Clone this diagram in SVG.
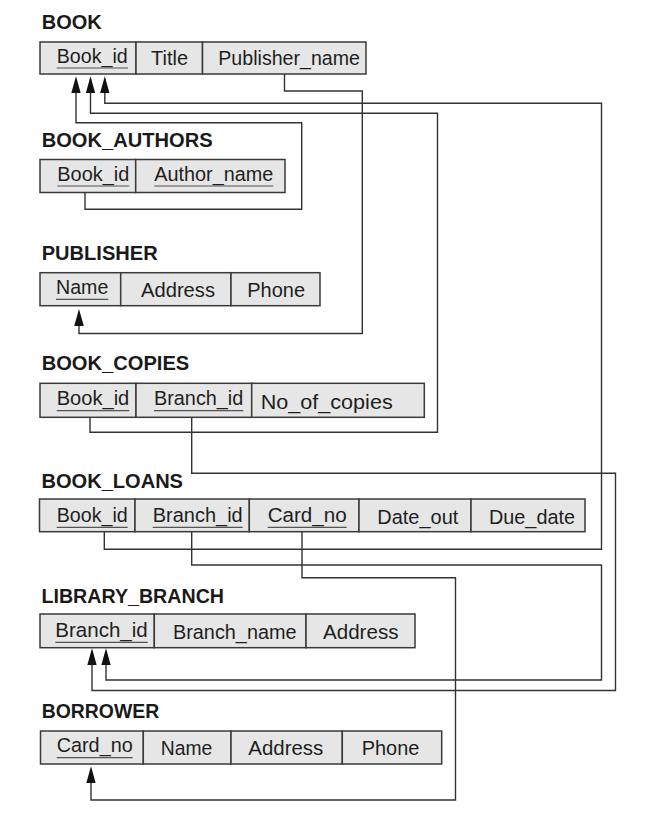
<svg xmlns="http://www.w3.org/2000/svg" width="664" height="826" viewBox="0 0 664 826">
<style>
.t{font-family:"Liberation Sans",Arial,Helvetica,sans-serif;font-size:20px;font-weight:bold;fill:#1a1a1a}
.c{fill:#e6e6e6;stroke:#3a3a3a;stroke-width:1.5}
.a{font-family:"Liberation Sans",Arial,Helvetica,sans-serif;font-size:20.5px;fill:#1e1e1e}
.u{stroke:#555;stroke-width:1.2}
.l{fill:none;stroke:#333;stroke-width:1.4}
</style>
<defs>
<marker id="ah" markerUnits="userSpaceOnUse" markerWidth="17" markerHeight="10" refX="14" refY="4.75" orient="auto">
<path d="M0,0 L17,4.75 L0,9.5 z" fill="#111"/>
</marker>
</defs>
<rect width="664" height="826" fill="#fff"/>

<g id="BOOK">
<text class="t" x="41.7" y="29" textLength="60" lengthAdjust="spacingAndGlyphs">BOOK</text>
<rect class="c" x="40" y="42" width="96" height="32"/>
<rect class="c" x="136" y="42" width="66.5" height="32"/>
<rect class="c" x="202.5" y="42" width="163.5" height="32"/>
<text class="a" x="56.7" y="63" textLength="71" lengthAdjust="spacingAndGlyphs">Book_id</text>
<line class="u" x1="56.7" y1="68" x2="128" y2="68"/>
<text class="a" x="151" y="64.5" textLength="37" lengthAdjust="spacingAndGlyphs">Title</text>
<text class="a" x="218.3" y="64.5" textLength="141.7" lengthAdjust="spacingAndGlyphs">Publisher_name</text>
</g>

<g id="BOOK_AUTHORS">
<text class="t" x="41.7" y="147" textLength="171" lengthAdjust="spacingAndGlyphs">BOOK_AUTHORS</text>
<rect class="c" x="40" y="159.5" width="95.7" height="33"/>
<rect class="c" x="135.7" y="159.5" width="149.3" height="33"/>
<text class="a" x="57.3" y="180.5" textLength="72" lengthAdjust="spacingAndGlyphs">Book_id</text>
<line class="u" x1="57.3" y1="186" x2="129.3" y2="186"/>
<text class="a" x="154.3" y="180.5" textLength="119" lengthAdjust="spacingAndGlyphs">Author_name</text>
<line class="u" x1="154.3" y1="186" x2="273.3" y2="186"/>
</g>

<g id="PUBLISHER">
<text class="t" x="41.7" y="260" textLength="116" lengthAdjust="spacingAndGlyphs">PUBLISHER</text>
<rect class="c" x="40" y="272.7" width="80.7" height="33"/>
<rect class="c" x="120.7" y="272.7" width="110.3" height="33"/>
<rect class="c" x="231" y="272.7" width="89" height="33"/>
<text class="a" x="56" y="294" textLength="52.3" lengthAdjust="spacingAndGlyphs">Name</text>
<line class="u" x1="56" y1="299.3" x2="108.3" y2="299.3"/>
<text class="a" x="141" y="296.5" textLength="74" lengthAdjust="spacingAndGlyphs">Address</text>
<text class="a" x="247.3" y="296.5" textLength="57.7" lengthAdjust="spacingAndGlyphs">Phone</text>
</g>

<g id="BOOK_COPIES">
<text class="t" x="41.7" y="369.5" textLength="147.6" lengthAdjust="spacingAndGlyphs">BOOK_COPIES</text>
<rect class="c" x="40" y="383.3" width="96" height="34"/>
<rect class="c" x="136" y="383.3" width="115.7" height="34"/>
<rect class="c" x="251.7" y="383.3" width="172.6" height="34"/>
<text class="a" x="56.7" y="405.3" textLength="72.6" lengthAdjust="spacingAndGlyphs">Book_id</text>
<line class="u" x1="56.7" y1="410.7" x2="129.3" y2="410.7"/>
<text class="a" x="154" y="405.3" textLength="89.3" lengthAdjust="spacingAndGlyphs">Branch_id</text>
<line class="u" x1="154" y1="410.7" x2="243.3" y2="410.7"/>
<text class="a" x="260.7" y="409" textLength="132" lengthAdjust="spacingAndGlyphs">No_of_copies</text>
</g>

<g id="BOOK_LOANS">
<text class="t" x="41.5" y="488" textLength="141.5" lengthAdjust="spacingAndGlyphs">BOOK_LOANS</text>
<rect class="c" x="39.5" y="499" width="95.5" height="32.7"/>
<rect class="c" x="135" y="499" width="114.3" height="32.7"/>
<rect class="c" x="249.3" y="499" width="109.7" height="32.7"/>
<rect class="c" x="359" y="499" width="112" height="32.7"/>
<rect class="c" x="471" y="499" width="114" height="32.7"/>
<text class="a" x="56.7" y="521.8" textLength="71" lengthAdjust="spacingAndGlyphs">Book_id</text>
<line class="u" x1="56.7" y1="527.3" x2="127.7" y2="527.3"/>
<text class="a" x="152.7" y="521.8" textLength="90" lengthAdjust="spacingAndGlyphs">Branch_id</text>
<line class="u" x1="152.7" y1="527.3" x2="242.7" y2="527.3"/>
<text class="a" x="267.7" y="521.8" textLength="79" lengthAdjust="spacingAndGlyphs">Card_no</text>
<line class="u" x1="267.7" y1="527.3" x2="346.7" y2="527.3"/>
<text class="a" x="377.3" y="523.5" textLength="81" lengthAdjust="spacingAndGlyphs">Date_out</text>
<text class="a" x="489" y="523.5" textLength="86" lengthAdjust="spacingAndGlyphs">Due_date</text>
</g>

<g id="LIBRARY_BRANCH">
<text class="t" x="41.5" y="603" textLength="182.5" lengthAdjust="spacingAndGlyphs">LIBRARY_BRANCH</text>
<rect class="c" x="40" y="614" width="114.3" height="33.7"/>
<rect class="c" x="154.3" y="614" width="151.7" height="33.7"/>
<rect class="c" x="306" y="614" width="109" height="33.7"/>
<text class="a" x="55.3" y="636.8" textLength="92.4" lengthAdjust="spacingAndGlyphs">Branch_id</text>
<line class="u" x1="55.3" y1="642.3" x2="147.7" y2="642.3"/>
<text class="a" x="173" y="639" textLength="123.5" lengthAdjust="spacingAndGlyphs">Branch_name</text>
<text class="a" x="323" y="639" textLength="75.5" lengthAdjust="spacingAndGlyphs">Address</text>
</g>

<g id="BORROWER">
<text class="t" x="41.7" y="718" textLength="117.6" lengthAdjust="spacingAndGlyphs">BORROWER</text>
<rect class="c" x="40.5" y="731" width="102.8" height="33"/>
<rect class="c" x="143.3" y="731" width="87.7" height="33"/>
<rect class="c" x="231" y="731" width="111.3" height="33"/>
<rect class="c" x="342.3" y="731" width="99.4" height="33"/>
<text class="a" x="56.7" y="752.2" textLength="76" lengthAdjust="spacingAndGlyphs">Card_no</text>
<line class="u" x1="56.7" y1="757.7" x2="132.7" y2="757.7"/>
<text class="a" x="160.7" y="755" textLength="51.6" lengthAdjust="spacingAndGlyphs">Name</text>
<text class="a" x="248.3" y="755" textLength="75" lengthAdjust="spacingAndGlyphs">Address</text>
<text class="a" x="361.7" y="755" textLength="57.6" lengthAdjust="spacingAndGlyphs">Phone</text>
</g>

<g id="connectors">
<path class="l" marker-end="url(#ah)" d="M85,192.7 V209.3 H301.7 V122.7 H76 V79.3"/>
<path class="l" marker-end="url(#ah)" d="M90,417.3 V432.3 H437.5 V113.3 H90.5 V79.3"/>
<path class="l" marker-end="url(#ah)" d="M104.3,531.7 V549.3 H601.5 V103.3 H104.8 V79.3"/>
<path class="l" marker-end="url(#ah)" d="M284.5,74 V91 H362.3 V333.5 H79 V312"/>
<path class="l" marker-end="url(#ah)" d="M191.7,417.3 V473.3 H615.5 V690.5 H92 V651.3"/>
<path class="l" marker-end="url(#ah)" d="M191.7,531.7 V565 H601.5 V680 H106 V651.3"/>
<path class="l" marker-end="url(#ah)" d="M302,531.7 V577.7 H455.5 V800 H91 V769.3"/>
</g>
</svg>
